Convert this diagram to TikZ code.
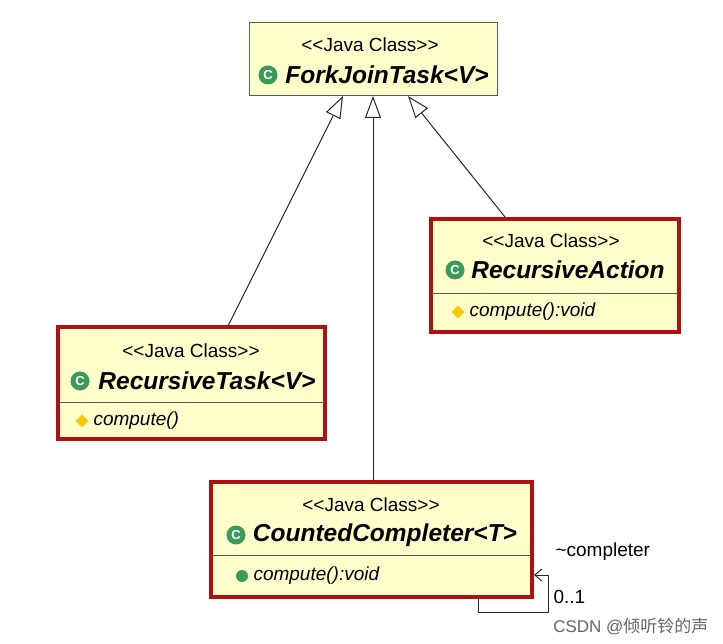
\documentclass[tikz,border=0pt]{standalone}
\usepackage{fontspec}
\setmainfont{Liberation Sans}
\newfontfamily\cjk{Noto Sans CJK SC}
\usetikzlibrary{arrows.meta,shapes.geometric}
\definecolor{boxfill}{HTML}{FFFFCC}
\definecolor{redb}{HTML}{B01010}
\definecolor{icg}{HTML}{3A9A5A}
\tikzset{
  plain/.style={draw=gray!70!black, line width=0.8pt, fill=boxfill},
  redbox/.style={draw=redb, line width=4pt, fill=boxfill},
  stereo/.style={font=\fontsize{19}{19}\selectfont},
  title/.style={font=\fontsize{24.5}{24.5}\selectfont\bfseries\itshape},
  meth/.style={font=\fontsize{19}{19}\selectfont\itshape, anchor=west},
  inh/.style={draw=gray!30!black, line width=1pt, -{Triangle[open,length=22pt,width=16pt]}},
  icon/.style={circle, fill=icg, inner sep=0pt, minimum size=19pt, text=white, font=\fontsize{13}{13}\selectfont\bfseries},
  micon/.style={diamond, fill=yellow!60!orange, inner sep=0pt, minimum size=13pt},
  sep/.style={draw=gray!70!black, line width=0.8pt}
}
\newcommand{\jc}{<\kern0pt<Java Class>\kern0pt>}
\begin{document}
\begin{tikzpicture}[x=1pt,y=-1pt]
\useasboundingbox (0,0) rectangle (723,644);
\fill[white] (0,0) rectangle (723,644);
% ForkJoinTask
\node[plain, minimum width=248pt, minimum height=73pt] (fjt) at (373,58.5) {};
\node[stereo] (fjts) at (370,45) {\jc};
\node[title] (fjtt) at (387,75) {ForkJoinTask<V>};
\node[icon] (fjti) at (268,75) {C};
% RecursiveAction
\node[redbox, minimum width=248pt, minimum height=113pt] (ra) at (555,275.5) {};
\node[stereo] (ras) at (551,241) {\jc};
\node[title] (rat) at (568,270) {RecursiveAction};
\node[icon] (rai) at (455,270) {C};
\draw[sep] (432,293) -- (678,293);
\node[micon] (ram) at (458,312) {};
\node[meth] (ramt) at (466,312) {compute():void};
% RecursiveTask
\node[redbox, minimum width=267pt, minimum height=112pt] (rt) at (191.5,383) {};
\node[stereo] (rts) at (191,351) {\jc};
\node[title] (rtt) at (207,381) {RecursiveTask<V>};
\node[icon] (rti) at (80,381) {C};
\draw[sep] (59,402) -- (324,402);
\node[micon] (rtm) at (82,421) {};
\node[meth] (rtmt) at (90,421) {compute()};
% CountedCompleter
\node[redbox, minimum width=321pt, minimum height=115pt] (cc) at (371.5,539.5) {};
\node[stereo] (ccs) at (371,505) {\jc};
\node[title] (cct) at (385,535) {CountedCompleter<T>};
\node[icon] (cci) at (236,535) {C};
\draw[sep] (212,555) -- (531,555);
\node[circle, fill=icg, inner sep=0pt, minimum size=12pt] (ccm) at (242,576) {};
\node[meth] (ccmt) at (250,576) {compute():void};
% inheritance
\draw[inh] (228,326) -- (343,96);
\draw[inh] (373,481) -- (373,96);
\draw[inh] (505,217) -- (408,96);
% self association
\coordinate (l1) at (478,598);
\coordinate (l2) at (478,612);
\coordinate (l3) at (548,612);
\coordinate (l4) at (548,575);
\coordinate (l5) at (534,575);
\draw[gray!30!black, line width=1pt, -{Straight Barb[length=7pt,width=12pt]}] (l1) -- (l2) -- (l3) -- (l4) -- (l5);
\node[stereo, anchor=west] (rol) at (552,552) {\textasciitilde completer};
\node[stereo, anchor=west] (mul) at (550,597) {0..1};
\node[anchor=east, text=gray!80!black, font=\fontsize{17}{17}\selectfont] (wm) at (712,626) {CSDN @{\cjk 倾听铃的声}};
\end{tikzpicture}
\end{document}
